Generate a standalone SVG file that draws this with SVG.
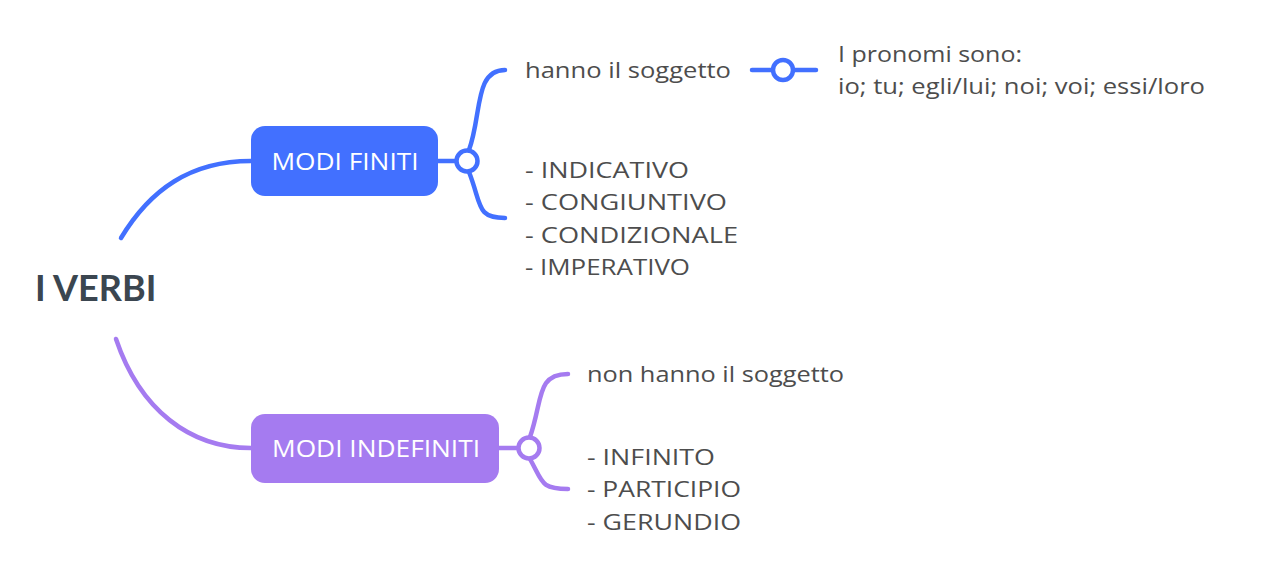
<svg xmlns="http://www.w3.org/2000/svg" width="1280" height="575" viewBox="0 0 1280 575">
<style>
.t{font-family:"Open Sans",Lato,"Liberation Sans",sans-serif;font-size:22px;fill:#4d4d4d}
.bt{font-family:"Open Sans",Lato,"Liberation Sans",sans-serif;font-size:24px;fill:#ffffff;text-anchor:middle}
.root{font-family:Lato,"Open Sans","Liberation Sans",sans-serif;font-size:36px;font-weight:bold;fill:#3b4650}
.b{fill:none;stroke:#4270FF;stroke-width:4.5;stroke-linecap:round}
.p{fill:none;stroke:#A57BF0;stroke-width:4.5;stroke-linecap:round}
.cb{fill:#fff;stroke:#4270FF;stroke-width:4.5}
.cp{fill:#fff;stroke:#A57BF0;stroke-width:4.5}
</style>
<rect width="1280" height="575" fill="#fff"/>
<g id="connectors">
<path class="b" d="M121,238 C150,190 190,161 251,161"/>
<path class="p" d="M116,339 C140,410 190,448 251,448"/>
<path class="b" d="M437,161 L456,161"/>
<path class="b" d="M469,150 C482,115 474,70 505,70"/>
<path class="b" d="M469,172 C482,205 476,218 505,218"/>
<path class="b" d="M752,70 L816,70"/>
<circle class="cb" cx="783" cy="70" r="10"/>
<path class="p" d="M499,448 L518,448"/>
<path class="p" d="M530,437 C543,400 536,374 568,374"/>
<path class="p" d="M530,459 C543,482 540,489 568,489"/>
</g>
<g id="root"><text class="root" x="35" y="301">I VERBI</text></g>
<g id="modi-finiti">
<rect x="251" y="126" width="187" height="70" rx="14" fill="#4270FF"/>
<text class="bt" x="345" y="169.5" textLength="147" lengthAdjust="spacingAndGlyphs">MODI FINITI</text>
<circle class="cb" cx="467" cy="161" r="10.5"/>
</g>
<g id="hanno-soggetto"><text class="t" x="525" y="78" textLength="206" lengthAdjust="spacingAndGlyphs">hanno il soggetto</text></g>
<g id="pronomi">
<text class="t" x="838" y="62" textLength="184" lengthAdjust="spacingAndGlyphs">I pronomi sono:</text>
<text class="t" x="838" y="93.5" textLength="367" lengthAdjust="spacingAndGlyphs">io; tu; egli/lui; noi; voi; essi/loro</text>
</g>
<g id="finiti-list">
<text class="t" x="525" y="177.5" textLength="164" lengthAdjust="spacingAndGlyphs">- INDICATIVO</text>
<text class="t" x="525" y="210" textLength="202" lengthAdjust="spacingAndGlyphs">- CONGIUNTIVO</text>
<text class="t" x="525" y="242.5" textLength="213" lengthAdjust="spacingAndGlyphs">- CONDIZIONALE</text>
<text class="t" x="525" y="275" textLength="165" lengthAdjust="spacingAndGlyphs">- IMPERATIVO</text>
</g>
<g id="modi-indefiniti">
<rect x="251" y="414" width="248" height="69" rx="14" fill="#A57BF0"/>
<text class="bt" x="376" y="456.5" textLength="208" lengthAdjust="spacingAndGlyphs">MODI INDEFINITI</text>
<circle class="cp" cx="529" cy="448" r="10.5"/>
</g>
<g id="non-hanno"><text class="t" x="587" y="381.5" textLength="257" lengthAdjust="spacingAndGlyphs">non hanno il soggetto</text></g>
<g id="indefiniti-list">
<text class="t" x="587" y="465" textLength="128" lengthAdjust="spacingAndGlyphs">- INFINITO</text>
<text class="t" x="587" y="497" textLength="154" lengthAdjust="spacingAndGlyphs">- PARTICIPIO</text>
<text class="t" x="587" y="529.5" textLength="154" lengthAdjust="spacingAndGlyphs">- GERUNDIO</text>
</g>
</svg>
